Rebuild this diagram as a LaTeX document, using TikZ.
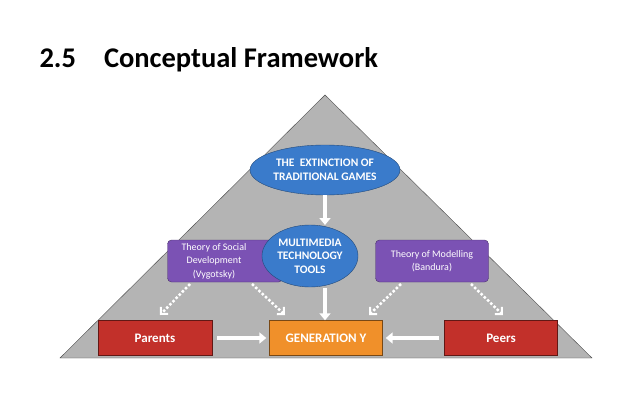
\documentclass[tikz,border=0pt]{standalone}
\usepackage{fontspec}
\setmainfont{Carlito}
\usetikzlibrary{shapes.geometric,arrows.meta}
\definecolor{ellblue}{HTML}{3A7BCB}
\definecolor{purp}{HTML}{7B52B4}
\definecolor{redb}{HTML}{C2302A}
\definecolor{orangeb}{HTML}{F0902A}
\definecolor{tri}{HTML}{B4B4B4}
\begin{document}
\begin{tikzpicture}[x=1pt,y=-1pt,
  ell/.style={ellipse,draw=ellblue!60!black,fill=ellblue,text=white,font=\bfseries\fontsize{11.5}{13.5}\selectfont,align=center,inner sep=0pt},
  purp/.style={rectangle,rounded corners=4pt,draw=purp!60!black,fill=purp,text=white,font=\fontsize{10}{13.5}\selectfont,align=center,inner sep=0pt},
  red/.style={rectangle,draw=redb!50!black,fill=redb,text=white,font=\bfseries\fontsize{13}{15}\selectfont,inner sep=0pt},
  solid arr/.style={draw=white,line width=3.5pt,-{Triangle[length=7pt,width=11pt]}},
  dot arr/.style={draw=white,line width=2.5pt,dotted,-{Straight Barb[length=5pt,width=10pt,line width=2pt]}}]
\useasboundingbox (0,0) rectangle (638,418);
\node[anchor=west,font=\bfseries\fontsize{28.5}{32}\selectfont] (title) at (36,60) {2.5\hspace{28pt}Conceptual Framework};
\coordinate (apex) at (325,95);
\coordinate (bl) at (60,358);
\coordinate (br) at (592,358);
\fill[tri,draw=gray!60!black] (apex) -- (br) -- (bl) -- cycle;
\node[ell,minimum width=150pt,minimum height=50pt] (ext) at (325,170) {THE\ \ EXTINCTION OF\\TRADITIONAL GAMES};
\node[purp,minimum width=115pt,minimum height=42pt] (soc) at (225,261) {};
\node[font=\fontsize{10}{13.5}\selectfont,text=white,align=center,inner sep=0pt] (soct) at (214,261) {Theory of Social\\Development\\(Vygotsky)};
\node[purp,minimum width=113pt,minimum height=42pt] (mod) at (432,261) {Theory of Modelling\\(Bandura)};
\node[ell,minimum width=96pt,minimum height=62pt] (mm) at (310,256) {MULTIMEDIA\\TECHNOLOGY\\TOOLS};
\node[red,minimum width=114pt,minimum height=35pt] (par) at (155,338) {Parents};
\node[rectangle,draw=orangeb!50!black,fill=orangeb,text=white,font=\bfseries\fontsize{13}{15}\selectfont,minimum width=113pt,minimum height=35pt,inner sep=0pt] (gen) at (326,338) {GENERATION Y};
\node[red,minimum width=113pt,minimum height=35pt] (peer) at (501,338) {Peers};
\coordinate (mmt) at (325,225);
\draw[solid arr] (ext.south -| mmt) -- (mmt);
\coordinate (mmb) at (325,288);
\draw[solid arr] (mmb) -- (gen.north -| mmb);
\draw[solid arr] (par.east) ++(5,0) -- ([xshift=-3pt]gen.west);
\draw[solid arr] (peer.west) ++(-5,0) -- ([xshift=3pt]gen.east);
\coordinate (s1) at (190,284); \coordinate (e1) at (160,315);
\coordinate (s2) at (252,284); \coordinate (e2) at (285,315);
\coordinate (s3) at (401,284); \coordinate (e3) at (369,315);
\coordinate (s4) at (471,284); \coordinate (e4) at (503,315);
\draw[dot arr] (s1) -- (e1);
\draw[dot arr] (s2) -- (e2);
\draw[dot arr] (s3) -- (e3);
\draw[dot arr] (s4) -- (e4);
\end{tikzpicture}
\end{document}
